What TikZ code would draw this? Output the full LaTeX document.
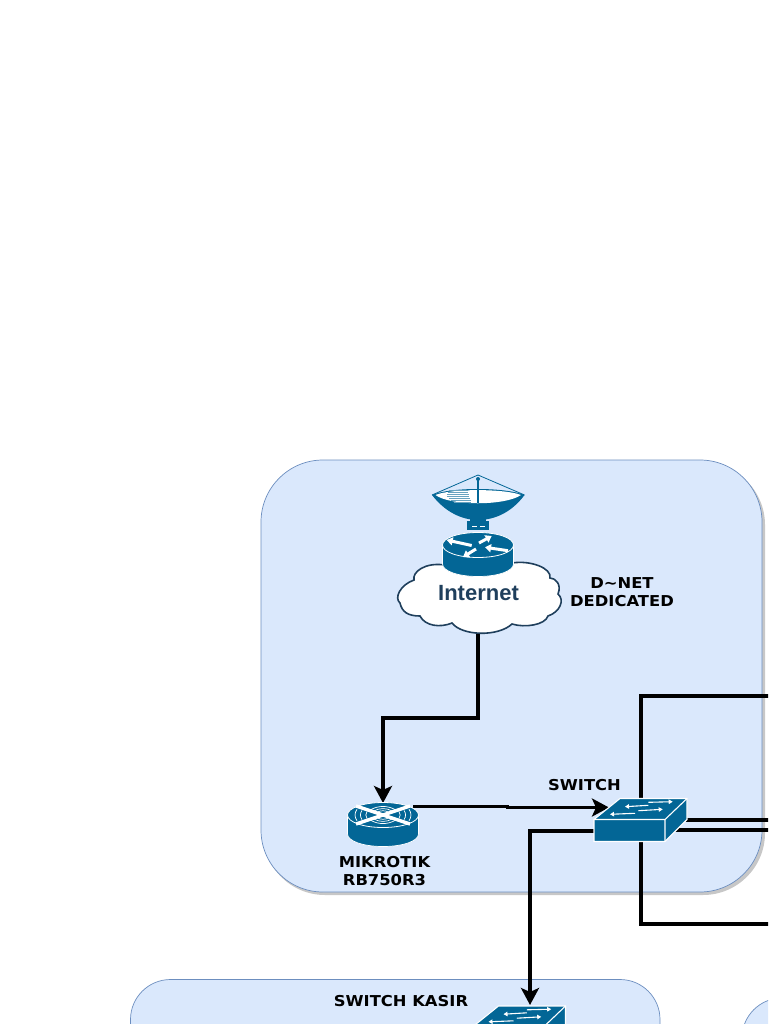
\documentclass[tikz,border=0pt]{standalone}
\usepackage{fontspec}
\setmainfont{DejaVu Sans}
\newfontfamily\labelfont{Liberation Sans}
\newfontfamily\captionfont[FakeStretch=1.09]{DejaVu Sans}
\usetikzlibrary{arrows.meta}
\definecolor{panelfill}{HTML}{DAE8FC}
\definecolor{paneledge}{HTML}{6C8EBF}
\definecolor{icon}{HTML}{036696}
\definecolor{cloudedge}{HTML}{1F3F5C}
\tikzset{
  x=1pt,y=-1pt,
  panel/.style={fill=panelfill,draw=paneledge,line width=.7pt},
  panelshadow/.style={fill=black!22},
  lbl/.style={font=\captionfont\bfseries\fontsize{15}{18}\selectfont,align=center,inner sep=0pt,text=black},
  link/.style={line width=4pt,draw=black,line join=miter},
  thin link/.style={line width=3pt,draw=black},
  arrowed/.style={-{Stealth[length=17pt,width=18pt,inset=4pt]}},
  anchorbox/.style={inner sep=0pt,minimum size=0pt,outer sep=0pt},
  whitearrow/.style={draw=white,line width=1.1pt,-{Triangle[length=4pt,width=4.5pt]}},
  routerarrow/.style={draw=white,line width=3pt,-{Triangle[length=6pt,width=8pt]}},
  pics/routericon/.style={code={
    \fill[icon,draw=white,line width=.7pt] (-35.5,0) -- (-35.5,19) .. controls (-35.5,26) and (-20,31.5) .. (0,31.5) .. controls (20,31.5) and (35.5,26) .. (35.5,19) -- (35.5,0) -- cycle;
    \fill[icon,draw=white,line width=.8pt] (-35.5,0) .. controls (-35.5,-7) and (-20,-12.5) .. (0,-12.5) .. controls (20,-12.5) and (35.5,-7) .. (35.5,0) .. controls (35.5,7) and (20,12.5) .. (0,12.5) .. controls (-20,12.5) and (-35.5,7) .. (-35.5,0) -- cycle;
  }},
  pics/switchicon/.style={code={
    \fill[icon,draw=white,line width=1.1pt] (-47,10) -- (-21,-11) -- (46,-11) -- (46,10) -- (24,32) -- (-47,32) -- cycle;
    \draw[white,line width=1.1pt] (-47,10) -- (24,10) -- (46,-11) (24,10) -- (24,32);
    \draw[whitearrow] (7.3,-4.2) -- (-16,-2.8);
    \draw[whitearrow] (7.3,-7.2) -- (31.7,-7.8);
    \draw[whitearrow] (-6,3.8) -- (-31,4.8);
    \draw[whitearrow] (-2.7,1.2) -- (21.7,-0.2);
  }},
}
\begin{document}
\begin{tikzpicture}
\useasboundingbox (0,0) rectangle (768,1024);
\clip (0,0) rectangle (768,1024);
% panels
\fill[panelshadow,rounded corners=62pt] (263,463) rectangle (765,895);
\path[panel,rounded corners=62pt] (261,460) rectangle (762,892);
\path[panel,rounded corners=40pt] (130.5,979.5) rectangle (660,1100);
\path[panel,rounded corners=40pt] (742,998) rectangle (1000,1100);

% anchors of the icons
\node[anchorbox] (cloudbottom) at (478,634) {};
\node[anchorbox] (mikrotiktop) at (383,803) {};
\node[anchorbox] (mikrotikright) at (413,806) {};
\node[anchorbox] (switchleftin) at (609,807.5) {};
\node[anchorbox] (switchtop) at (640.5,798) {};
\node[anchorbox] (switchbottom) at (640.5,841) {};
\node[anchorbox] (switchrighta) at (686,819.5) {};
\node[anchorbox] (switchrightb) at (675,830) {};
\node[anchorbox] (switchleft) at (594,830.5) {};
\node[anchorbox] (kasirtop) at (530,1005) {};
\coordinate (offtop) at (769,696);
\coordinate (offa) at (769,819.5);
\coordinate (offb) at (769,830);
\coordinate (offbottom) at (769,924);

% connectors
\draw[link,arrowed] (cloudbottom) -- (478,718) -- (383,718) -- (mikrotiktop);
\draw[thin link,arrowed] (mikrotikright) -- (507,806) -- (507,807.5) -- (switchleftin);
\draw[link] (switchtop) -- (640.5,696) -- (offtop);
\draw[link] (switchbottom) -- (640.5,924) -- (offbottom);
\draw[link] (switchrighta) -- (offa);
\draw[link] (switchrightb) -- (offb);
\draw[link,arrowed] (switchleft) -- (530,830.5) -- (kasirtop);

% cloud
\fill[white,draw=cloudedge,line width=1.6pt]
 (445,565) .. controls (425,562) and (412,572) .. (414,580)
 .. controls (400,585) and (394,598) .. (400,603)
 .. controls (402,612) and (408,616) .. (420,616)
 .. controls (425,626) and (440,628) .. (452,623)
 .. controls (462,636) and (498,637) .. (512,624)
 .. controls (525,628) and (545,625) .. (548,616)
 .. controls (560,612) and (565,600) .. (558,594)
 .. controls (562,584) and (555,578) .. (550,578)
 .. controls (552,568) and (530,560) .. (512,563)
 -- cycle;
\node[anchorbox,text=cloudedge,font=\labelfont\bfseries\fontsize{22}{26}\selectfont] (internet) at (478.5,593) {Internet};

% dish
\fill[icon] (432,495) .. controls (445,512) and (462,520) .. (478,520) .. controls (495,520) and (512,512) .. (524.5,495) .. controls (505,487) and (450,487) .. (432,495) -- cycle;
\fill[white] (435.5,495) .. controls (450,488.5) and (505,488.5) .. (521,495) .. controls (505,506) and (450,506) .. (435.5,495) -- cycle;
\draw[icon,line width=.8pt] (432,495) -- (478,475) -- (524.5,495);
\draw[icon,line width=1.2pt] (478,479) -- (478,503);
\fill[icon] (478,479) circle[radius=2];
\foreach \yy/\xa/\xb in {490/449/468,492/448/468,494/447/469,496/447/469,498/449/470,500/451/471,502/454/471}
  \draw[icon!60,line width=.8pt] (\xa,\yy) -- (\xb,\yy);
\fill[icon] (467,521) rectangle (489,530);
\fill[icon] (470,519) rectangle (486,522);
\draw[white,line width=.8pt] (472,526) -- (477,526) (480,526) -- (485,526);

% upper router
\pic at (478,545) {routericon};
\draw[routerarrow] (471.7,545.5) -- (446.7,540);
\draw[routerarrow] (479,543) -- (491.7,536);
\draw[routerarrow] (508,550.7) -- (485,547.3);
\draw[routerarrow] (476,549) -- (463,557);

% mikrotik router
\pic at (383,815) {routericon};
\draw[white,line width=3.4pt] (356,806) -- (410,824) (356,824) -- (410,806);
\foreach \rr in {6,9,12}{
  \draw[white,line width=.7pt] (383-\rr,815-\rr*.45) .. controls (383-\rr*.4,815-\rr*.8) and (383+\rr*.4,815-\rr*.8) .. (383+\rr,815-\rr*.45);
  \draw[white,line width=.7pt] (383-\rr,815+\rr*.45) .. controls (383-\rr*.4,815+\rr*.8) and (383+\rr*.4,815+\rr*.8) .. (383+\rr,815+\rr*.45);
}
\foreach \rr in {16,21,26}{
  \draw[white,line width=.7pt] (383-\rr,815-\rr*.22) .. controls (383-\rr*1.1,815-\rr*.08) and (383-\rr*1.1,815+\rr*.08) .. (383-\rr,815+\rr*.22);
  \draw[white,line width=.7pt] (383+\rr,815-\rr*.22) .. controls (383+\rr*1.1,815-\rr*.08) and (383+\rr*1.1,815+\rr*.08) .. (383+\rr,815+\rr*.22);
}

% switches
\pic at (641,809.5) {switchicon};
\pic at (519.5,1017) {switchicon};

% labels
\node[lbl] (dnet) at (622,592) {D\char`~NET\\DEDICATED};
\node[lbl] (swlabel) at (584.5,785) {SWITCH};
\node[lbl] (mklabel) at (384.5,871) {MIKROTIK\\RB750R3};
\node[lbl] (kasirlabel) at (401,1001) {SWITCH KASIR};
\end{tikzpicture}
\end{document}
